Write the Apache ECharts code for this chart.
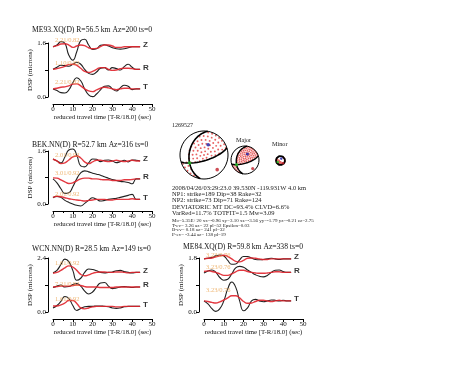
<!DOCTYPE html>
<html><head><meta charset="utf-8">
<script src="https://cdn.jsdelivr.net/npm/echarts@6/dist/echarts.min.js"></script>
<style>html,body{margin:0;padding:0;background:#fff}#c{width:474px;height:366px}</style>
</head><body><div id="c"></div>
<script>
// ---------- time samples (sec) ----------
const times = [0,2,4,6,8,10,12,14,16,18,20,22,24,26,28,30,32,34,36,38,40,42,44];
const comps = ['Z','R','T'];

// ---------- Panel 1: ME93.XQ ----------
const p1Title = 'ME93.XQ(D) R=56.5 km Az=200 ts=0';
const p1YMax = 1.6;
const p1Offsets = [1.49, 0.82, 0.24];
const p1Labels = ['2.21/0.82', '1.10/0.82', '2.21/0.82'];
const p1ObsZ = [0,0.05,0.15,0.10,-0.25,-0.40,-0.15,0.18,0.22,0.05,-0.08,-0.06,0.04,0.06,0.02,-0.03,-0.06,-0.07,-0.06,-0.03,0,0,0];
const p1SynZ = [0,0.03,0.08,0.09,0.05,-0.02,0.02,0.05,0.03,-0.03,-0.06,-0.05,0,0.05,0.05,0.02,-0.02,-0.02,0,0,0,0,0];
const p1ObsR = [0,0.06,0.12,0.11,0.09,0.15,0.21,0.15,0,-0.12,-0.15,-0.08,0.03,0.05,-0.02,0.05,0.02,-0.02,0.08,0.15,0.06,0,0];
const p1SynR = [0,0.02,0.05,0.09,0.14,0.15,0.12,0.03,-0.06,-0.09,-0.06,0,0.05,0.05,0,-0.03,-0.02,0.02,0.03,0.03,0.02,0,0];
const p1ObsT = [0,-0.05,-0.11,-0.12,-0.03,0.18,0.33,0.24,0,-0.18,-0.23,-0.15,-0.03,0.08,0.09,0,-0.06,0.03,0.11,0.08,-0.02,0,0];
const p1SynT = [0,0.02,0.05,0.06,0.09,0.14,0.15,0.09,0,-0.06,-0.08,-0.03,0.02,0.05,0.03,0,-0.02,0,0.02,0.02,0,0,0];

// ---------- Panel 2: BEK.NN ----------
const p2Title = 'BEK.NN(D) R=52.7 km Az=316 ts=0';
const p2YMax = 1.6;
const p2Offsets = [1.30, 0.76, 0.14];
const p2Labels = ['2.01/0.92', '3.01/0.92', '2.01/0.92'];
const p2ObsZ = [0.06,0,-0.06,0.12,0.33,0.36,0.18,-0.15,-0.18,-0.06,0.06,0.05,-0.02,0.02,0.03,0,-0.05,-0.02,0.02,-0.03,0.03,0.02,0];
const p2SynZ = [0.05,0,-0.08,-0.06,0.03,0.12,0.15,0.09,-0.03,-0.08,-0.03,0.02,0.02,0,-0.02,0,0.02,0,-0.02,0,0.02,0,0];
const p2ObsR = [0,-0.12,-0.30,-0.44,-0.42,-0.24,0,0.18,0.24,0.21,0.17,0.14,0.11,0.06,0.02,-0.02,-0.05,-0.08,-0.09,-0.11,-0.15,0,0];
const p2SynR = [0.03,0.02,-0.03,-0.09,-0.14,-0.12,-0.06,0,0.02,0.02,0,0,-0.02,-0.03,-0.03,-0.05,-0.05,-0.05,-0.03,-0.03,-0.02,0,0];
const p2ObsT = [0.05,0.09,0.06,-0.03,-0.09,-0.14,-0.18,-0.20,-0.12,-0.03,0.05,0,-0.05,-0.03,0,0.02,0.03,0.06,0.09,0.12,0.15,0,0];
const p2SynT = [0.06,0.09,0.08,0.05,0.02,0,-0.02,-0.03,-0.05,-0.03,-0.02,0,0,0,-0.02,-0.02,0,0,0,0,0.02,0,0];

// ---------- Panel 3: WCN.NN ----------
const p3Title = 'WCN.NN(D) R=28.5 km Az=149 ts=0';
const p3YMax = 2.4;
const p3Offsets = [1.76, 1.11, 0.25];
const p3Labels = ['1.61/0.92', '7.21/0.92', '1.61/0.92'];
const p3ObsZ = [-0.02,0.09,0.35,0.59,0.48,0.09,-0.35,-0.26,0,0.15,0.13,0.07,0,-0.02,0,0.02,0.07,0.09,0.04,0,-0.02,0,0];
const p3SynZ = [-0.04,0,0.09,0.20,0.29,0.24,0.09,-0.09,-0.15,-0.11,-0.04,0,0.02,0.02,0,0,0.02,0.02,0,-0.02,0,0,0];
const p3ObsR = [-0.02,0.04,0.09,0,0.02,0.11,0.15,0.04,-0.18,-0.31,-0.22,0,0.18,0.20,0.04,-0.07,-0.04,0,0.02,0,-0.02,0,0];
const p3SynR = [0,0.02,0.04,0.04,0.04,0.07,0.09,0.07,0.02,0,0,0,-0.02,-0.02,-0.02,-0.02,0,0,0,0,0,0,0];
const p3ObsT = [-0.07,0.04,0.22,0.44,0.35,0.04,-0.18,-0.09,-0.02,0,0,0.02,0.02,0,-0.02,-0.07,-0.09,-0.07,-0.02,0,0,0,0];
const p3SynT = [0.02,0.02,0.07,0.15,0.26,0.26,0.13,-0.07,-0.11,-0.07,-0.02,0,0,0,0,0,-0.02,-0.02,0,0,0,0,0];

// ---------- Panel 4: ME84.XQ ----------
const p4Title = 'ME84.XQ(D) R=59.8 km Az=338 ts=0';
const p4YMax = 1.8;
const p4Offsets = [1.77, 1.32, 0.37];
const p4Labels = ['3.23/0.76', '3.23/0.76', '3.23/0.76'];
const p4ObsZ = [0,0.02,0.05,0.10,0.13,0.10,-0.05,-0.18,-0.17,-0.03,0.08,0.08,0.03,-0.02,-0.03,-0.02,0,0.02,0,-0.02,0,0,0];
const p4SynZ = [0,0.02,0.03,0.07,0.10,0.12,0.08,0,-0.08,-0.10,-0.05,0.02,0.03,0.02,0,-0.02,-0.02,0,0,0,0,0,0];
const p4ObsR = [-0.02,0.05,0.08,0,-0.17,-0.26,-0.23,-0.05,0.15,0.20,0.17,0.08,0,-0.08,-0.13,-0.15,-0.10,0,0.07,0.08,0.03,0,0];
const p4SynR = [0.03,0.05,0.03,0,-0.05,-0.10,-0.10,-0.05,0.02,0.07,0.07,0.03,0,-0.02,-0.03,-0.03,-0.02,0,0.02,0.02,0,0,0];
const p4ObsT = [0,-0.10,-0.26,-0.35,-0.26,0,0.40,0.63,0.46,0,-0.33,-0.23,0,0.05,0,-0.03,0,0.03,0.02,0,0.02,0,0];
const p4SynT = [0,-0.02,-0.05,-0.07,-0.03,0.03,0.10,0.17,0.17,0.10,-0.02,-0.08,-0.07,-0.02,0.02,0.02,0,-0.02,0,0.02,0,0,0];

// ---------- focal mechanism ----------
const eventId = '1269527';
const nodalStrike = [189, 73];
const nodalDip = [38, 71];
const eigVal = [3.26, 0.18, -3.44];   // T, B, P
const eigAz = [22, 241, 138];
const eigPl = [52, 32, 19];
const infoLines = [
  '2008/04/26/03:29:23.0 39.530N -119.931W 4.0 km',
  'NP1: strike=189 Dip=38 Rake=32',
  'NP2: strike=73 Dip=71 Rake=124',
  'DEVIATORIC MT DC=93.4% CLVD=6.6%',
  'VarRed=11.7% TOTFIT=1.5 Mw=3.09'
];
const smallLines = [
  'Mo=5.35E+20 xx=-0.96 xy=3.10 xz=-3.56 yy=-1.79 yz=-0.21 zz=2.75',
  'T-ev= 3.26 az= 22 pl=52 Epsilon=0.03',
  'B-ev= 0.18 az= 241 pl=32',
  'P-ev= -3.44 az= 138 pl=19'
];

// ---------- layout / style (not data) ----------
const SERIF = '"Liberation Serif","DejaVu Serif",serif';
const panels = [
  {title:p1Title, ymax:p1YMax, off:p1Offsets, labels:p1Labels, obs:[p1ObsZ,p1ObsR,p1ObsT], syn:[p1SynZ,p1SynR,p1SynT],
   grid:{left:53, top:43, width:99, height:54}, tpos:{left:32, top:26}, lblDy:[-6,-6,-7]},
  {title:p2Title, ymax:p2YMax, off:p2Offsets, labels:p2Labels, obs:[p2ObsZ,p2ObsR,p2ObsT], syn:[p2SynZ,p2SynR,p2SynT],
   grid:{left:53, top:151, width:99, height:53}, tpos:{left:32, top:141}, lblDy:[-6,-6,-5]},
  {title:p3Title, ymax:p3YMax, off:p3Offsets, labels:p3Labels, obs:[p3ObsZ,p3ObsR,p3ObsT], syn:[p3SynZ,p3SynR,p3SynT],
   grid:{left:53, top:258, width:99, height:54}, tpos:{left:32, top:245}, lblDy:[-9,-3,-7]},
  {title:p4Title, ymax:p4YMax, off:p4Offsets, labels:p4Labels, obs:[p4ObsZ,p4ObsR,p4ObsT], syn:[p4SynZ,p4SynR,p4SynT],
   grid:{left:204, top:258, width:99, height:54}, tpos:{left:183, top:243}, lblDy:[-4,-5.5,-11]}
];

const grids = [], xAxes = [], yAxes = [], series = [], titles = [];

panels.forEach((p, gi) => {
  grids.push(p.grid);
  xAxes.push({gridIndex:gi, type:'value', min:0, max:50, interval:10, offset:7,
    axisLine:{show:true, onZero:false, lineStyle:{color:'#000', width:1}},
    axisTick:{show:true, length:3, lineStyle:{color:'#000'}},
    minorTick:{show:true, splitNumber:2, length:2, lineStyle:{color:'#000'}},
    splitLine:{show:false}, minorSplitLine:{show:false},
    axisLabel:{fontSize:7, color:'#111', margin:2, fontFamily:SERIF},
    name:'reduced travel time [T-R/18.0] (sec)', nameLocation:'middle', nameGap:10,
    nameTextStyle:{fontSize:6.8, color:'#111', fontFamily:SERIF}});
  yAxes.push({gridIndex:gi, type:'value', min:0, max:p.ymax, interval:p.ymax/2, offset:5,
    axisLine:{show:true, onZero:false, lineStyle:{color:'#000', width:1}},
    axisTick:{show:true, length:3, lineStyle:{color:'#000'}},
    splitLine:{show:false},
    axisLabel:{fontSize:7, color:'#111', margin:2, fontFamily:SERIF,
      formatter: v => (Math.abs(v) < 1e-9 || Math.abs(v - p.ymax) < 1e-9) ? v.toFixed(1) : ''},
    name:'DSP (microns)', nameLocation:'middle', nameGap:14, nameRotate:90,
    nameTextStyle:{fontSize:7, color:'#111', fontFamily:SERIF}});
  titles.push({text:p.title, left:p.tpos.left, top:p.tpos.top, padding:0,
    textStyle:{fontSize:7.6, fontWeight:'normal', color:'#111', fontFamily:SERIF}});
  comps.forEach((c, ci) => {
    series.push({type:'line', xAxisIndex:gi, yAxisIndex:gi, smooth:0.5, showSymbol:false, clip:false, silent:true, z:2,
      data: times.map((t, i) => [t, p.off[ci] + p.obs[ci][i]]),
      lineStyle:{color:'#222', width:1.1}});
    series.push({type:'line', xAxisIndex:gi, yAxisIndex:gi, smooth:0.5, showSymbol:false, clip:false, silent:true, z:3,
      data: times.map((t, i) => [t, p.off[ci] + p.syn[ci][i]]),
      lineStyle:{color:'#e0242c', width:1.4, opacity:0.9}});
  });
  series.push({type:'scatter', xAxisIndex:gi, yAxisIndex:gi, symbolSize:0, silent:true, z:4, clip:false,
    data: p.off.map((o, ci) => ({value:[0, o], label:{formatter:p.labels[ci], offset:[-3, p.lblDy[ci]]}})),
    label:{show:true, position:'right', color:'#eba553', fontSize:6.5, fontFamily:SERIF}});
  series.push({type:'scatter', xAxisIndex:gi, yAxisIndex:gi, symbolSize:0, silent:true, z:4, clip:false,
    data: p.off.map((o, ci) => ({value:[44, o], label:{formatter:comps[ci]}})),
    label:{show:true, position:'right', offset:[-2,-2], color:'#000', fontSize:8, fontWeight:'bold', fontFamily:'"Liberation Sans",Arial,sans-serif'}});
});

// ---------- beach balls ----------
const D2R = Math.PI/180;
function vec(az, pl){ const a=az*D2R, p=pl*D2R; return [Math.cos(p)*Math.cos(a), Math.cos(p)*Math.sin(a), Math.sin(p)]; }
function dot(a,b){ return a[0]*b[0]+a[1]*b[1]+a[2]*b[2]; }
function proj(g){ let n=g[0], e=g[1], d=g[2]; if (d<0){n=-n;e=-e;d=-d;}
  const pl = Math.asin(Math.min(1,d)); const tr = Math.atan2(e,n);
  const r = Math.SQRT2*Math.sin((Math.PI/2-pl)/2); return [r*Math.sin(tr), r*Math.cos(tr)]; }
function unproj(x,y){ const r=Math.hypot(x,y); const pl=Math.PI/2-2*Math.asin(Math.min(1,r/Math.SQRT2)); const tr=Math.atan2(x,y);
  return [Math.cos(pl)*Math.cos(tr), Math.cos(pl)*Math.sin(tr), Math.sin(pl)]; }
const eigVec = eigAz.map((a,i)=>vec(a, eigPl[i]));
function radiation(g, w){ return w[0]*dot(g,eigVec[0])**2 + w[1]*dot(g,eigVec[1])**2 + w[2]*dot(g,eigVec[2])**2; }
function planeCurve(strike, dip){
  const s=strike*D2R, d=dip*D2R;
  const sv=[Math.cos(s), Math.sin(s), 0];
  const dv=[Math.cos(s+Math.PI/2)*Math.cos(d), Math.sin(s+Math.PI/2)*Math.cos(d), Math.sin(d)];
  const out=[];
  for(let k=0;k<=90;k++){ const a=k*Math.PI/90;
    out.push(proj([Math.cos(a)*sv[0]+Math.sin(a)*dv[0], Math.cos(a)*sv[1]+Math.sin(a)*dv[1], Math.cos(a)*sv[2]+Math.sin(a)*dv[2]])); }
  return out;
}
function outline(){ const o=[]; for(let k=0;k<=72;k++){ const a=k*5*D2R; o.push([Math.sin(a), Math.cos(a)]); } return o; }
function ringDots(nRings, spacing, w){
  const pts=[];
  for(let k=0;k<=nRings;k++){ const r=k/nRings*0.95; const cnt=Math.max(1, Math.round(2*Math.PI*r/spacing));
    for(let j=0;j<cnt;j++){ const a=j*2*Math.PI/cnt+k*0.3; const x=r*Math.sin(a), y=r*Math.cos(a);
      if (radiation(unproj(x,y), w) > 0) pts.push([x,y]); } }
  return pts;
}
const ballDefs = [
  {grid:{left:180, top:131, width:48, height:48}, w:eigVal, rings:6, sp:0.17, dot:1.9, ax:3.6, lw:1.6, planes:true},
  {grid:{left:231, top:146, width:28, height:28}, w:[-eigVal[2],0,eigVal[2]], rings:7, sp:0.14, dot:1.7, ax:3.2, lw:1.4, planes:true},
  {grid:{left:276, top:156, width:9, height:9}, w:[eigVal[0]+eigVal[2], eigVal[1], 0], rings:3, sp:0.3, dot:1.8, ax:2.6, lw:1.6, planes:false}
];
const axisColors = ['#1a1aa0', '#2bc82b', '#c0202a'];
ballDefs.forEach((b) => {
  const gi = grids.length;
  grids.push(b.grid);
  xAxes.push({gridIndex:gi, type:'value', min:-1, max:1, show:false});
  yAxes.push({gridIndex:gi, type:'value', min:-1, max:1, show:false});
  series.push({type:'scatter', xAxisIndex:gi, yAxisIndex:gi, silent:true, symbolSize:b.dot, z:2,
    itemStyle:{color:'#e23a3a'}, data: ringDots(b.rings, b.sp, b.w)});
  if (b.planes) nodalStrike.forEach((s,i) => {
    series.push({type:'line', xAxisIndex:gi, yAxisIndex:gi, silent:true, showSymbol:false, z:4, clip:false,
      lineStyle:{color:'#000', width:b.lw}, data: planeCurve(s, nodalDip[i])});
  });
  series.push({type:'line', xAxisIndex:gi, yAxisIndex:gi, silent:true, showSymbol:false, z:4, clip:false,
    lineStyle:{color:'#000', width:b.planes?1:1.8}, data: outline()});
  series.push({type:'scatter', xAxisIndex:gi, yAxisIndex:gi, silent:true, symbolSize:b.ax, z:5,
    data: eigVec.map((v,i)=>({value:proj(v), itemStyle:{color:axisColors[i]}}))});
});

titles.push({text:eventId, left:172, top:122, padding:0, textStyle:{fontSize:6, fontWeight:'normal', color:'#222', fontFamily:SERIF}});
titles.push({text:'Major', left:236, top:137, padding:0, textStyle:{fontSize:6.2, fontWeight:'normal', color:'#222', fontFamily:SERIF}});
titles.push({text:'Minor', left:272, top:141, padding:0, textStyle:{fontSize:6.2, fontWeight:'normal', color:'#222', fontFamily:SERIF}});
const infoTops = [185, 191, 197, 203.5, 209.5];
infoLines.forEach((t,i) => titles.push({text:t, left:172, top:infoTops[i], padding:0,
  textStyle:{fontSize:6.5, fontWeight:'normal', color:'#222', fontFamily:SERIF}}));
const smallTops = [218.6, 223.6, 227.6, 232.6];
smallLines.forEach((t,i) => titles.push({text:t, left:172, top:smallTops[i], padding:0,
  textStyle:{fontSize:5, fontWeight:'normal', color:'#222', fontFamily:SERIF}}));

const chart = echarts.init(document.getElementById('c'), null, {renderer:'canvas'});
chart.setOption({animation:false, backgroundColor:'#fff', title:titles, grid:grids, xAxis:xAxes, yAxis:yAxes, series:series});
</script></body></html>
